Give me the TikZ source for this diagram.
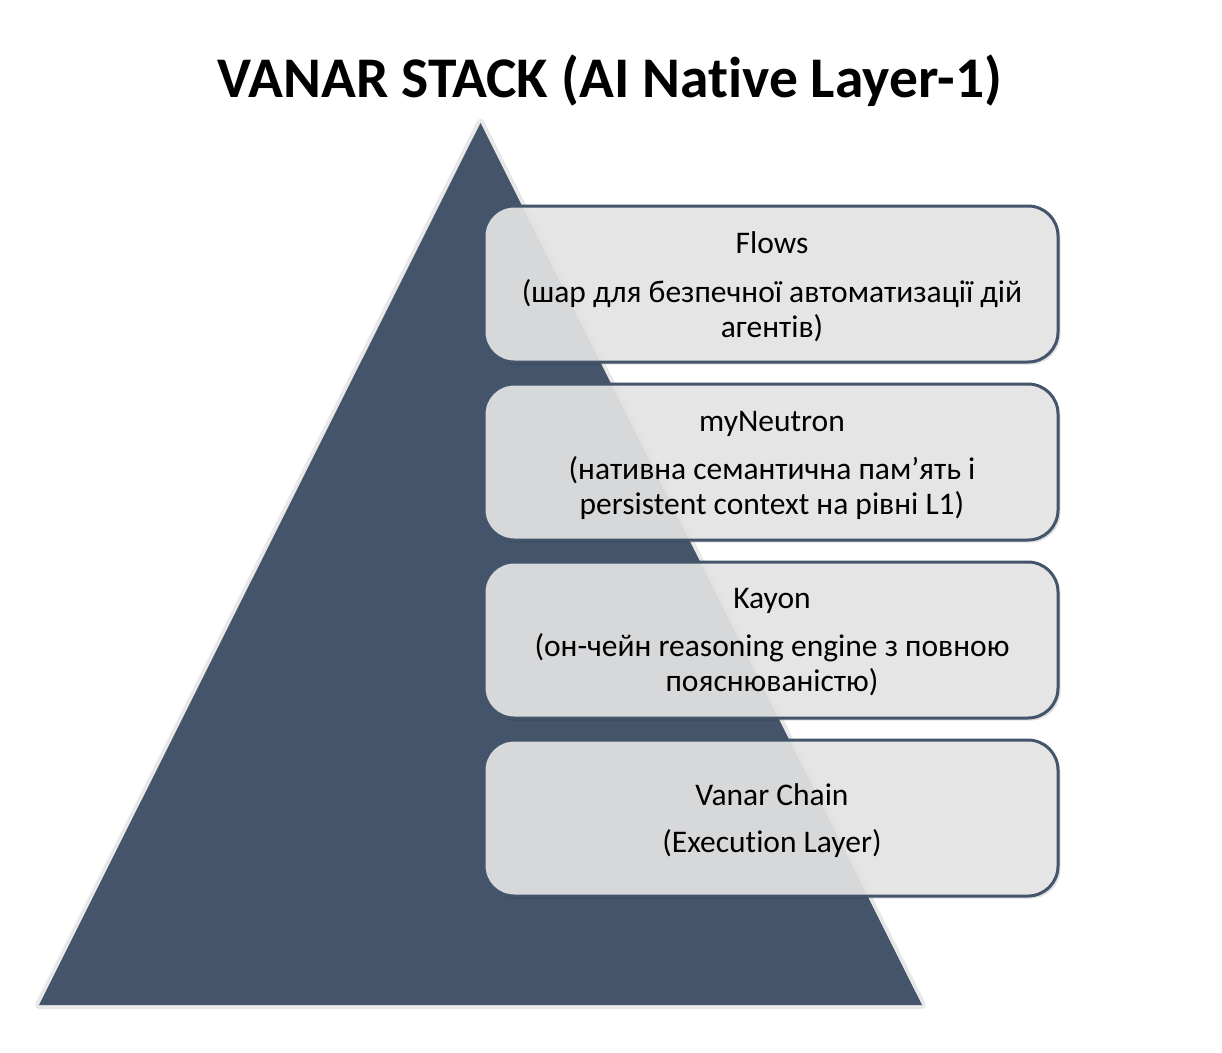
\documentclass[tikz,border=0pt]{standalone}
\usepackage{fontspec}
\setmainfont{Carlito}[Ligatures=NoCommon]
\definecolor{slate}{RGB}{68,84,106}
\definecolor{boxfill}{RGB}{229,229,229}
\definecolor{rim}{RGB}{232,232,232}
\begin{document}
\begin{tikzpicture}[x=1pt,y=-1pt,
  layerbox/.style={draw=slate,line width=3pt,rounded corners=30pt,fill=boxfill,fill opacity=0.92,
    minimum width=574pt,minimum height=156pt,inner sep=0pt,outer sep=0pt,anchor=north west},
  lbl/.style={inner sep=0pt,anchor=base,font=\fontsize{31.5}{36}\selectfont},
  ttl/.style={inner sep=0pt,anchor=base,font=\fontsize{57.5}{66}\selectfont\bfseries}]
\useasboundingbox (0,0) rectangle (1222,1052);
\node[ttl] (title) at (610,97) {VANAR STACK (AI Native Layer-1)};
% pyramid
\draw[rim,line width=8pt,line join=round] (39,1005) -- (922,1005) -- (480.5,123) -- cycle;
\fill[slate] (39,1005) -- (922,1005) -- (480.5,123) -- cycle;
% boxes
\foreach \n/\y in {b1/206,b2/384,b3/562,b4/740}{
  \fill[black,opacity=0.12,rounded corners=30pt] (486,\y+3) rectangle (1060.5,\y+158.5);
  \node[layerbox] (\n) at (484,\y) {};
}
\node[lbl] (t1a) at (772,253) {Flows};
\node[lbl] (t1b) at (772,302) {(шар для безпечної автоматизації дій};
\node[lbl] (t1c) at (772,337) {агентів)};
\node[lbl] (t2a) at (772,431) {myNeutron};
\node[lbl] (t2b) at (772,479) {(нативна семантична пам’ять і};
\node[lbl] (t2c) at (772,514) {persistent context на рівні L1)};
\node[lbl] (t3a) at (772,608) {Kayon};
\node[lbl] (t3b) at (772,656) {(он-чейн reasoning engine з повною};
\node[lbl] (t3c) at (772,691) {пояснюваністю)};
\node[lbl] (t4a) at (772,805) {Vanar Chain};
\node[lbl] (t4b) at (772,852) {(Execution Layer)};
\end{tikzpicture}
\end{document}
